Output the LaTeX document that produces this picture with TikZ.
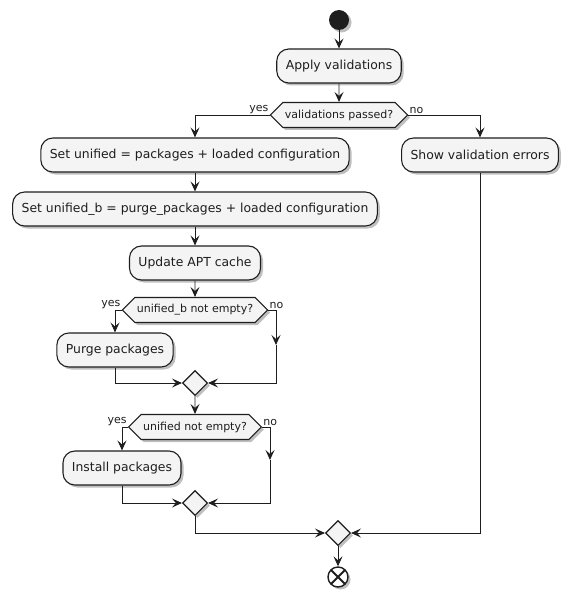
\documentclass[tikz,border=0pt]{standalone}
\usepackage{fontspec}
\setmainfont{DejaVu Sans}
\usetikzlibrary{arrows.meta,shapes.geometric,shapes.symbols,shadows,positioning}
\definecolor{ink}{HTML}{1E1E1E}
\definecolor{boxfill}{HTML}{F4F4F4}

\begin{document}
\begin{tikzpicture}[
  x=1pt,y=-1pt,
  font=\fontsize{12.4}{14}\selectfont,
  boxshadow/.style={drop shadow={shadow xshift=2.5pt,shadow yshift=-2.5pt,
                    opacity=0.25,fill=black}},
  action/.style={rounded corners=12pt,draw=ink,fill=boxfill,line width=1.1pt,
                 minimum height=34pt,inner xsep=9pt,text=ink,boxshadow},
  decision/.style={signal,signal to=west and east,signal pointer angle=90,
                   draw=ink,fill=boxfill,line width=1.1pt,minimum height=25pt,
                   inner xsep=2pt,inner ysep=0pt,text=ink,boxshadow,
                   font=\fontsize{11}{13}\selectfont},
  merge/.style={diamond,draw=ink,fill=boxfill,line width=1.1pt,
                minimum size=25pt,inner sep=0pt,boxshadow},
  startnode/.style={circle,fill=ink,minimum size=20pt,inner sep=0pt,boxshadow},
  endnode/.style={circle,draw=ink,fill=white,line width=1.4pt,minimum size=20pt,
                  inner sep=0pt,boxshadow,
                  path picture={\draw[ink,line width=2pt]
                    (path picture bounding box.north west) -- (path picture bounding box.south east)
                    (path picture bounding box.north east) -- (path picture bounding box.south west);}},
  branchlabel/.style={font=\fontsize{11}{13}\selectfont,text=ink,inner sep=1pt},
  flow/.style={draw=ink,line width=0.9pt,-{Stealth[length=10pt,width=9pt,inset=4pt]}}
]
\useasboundingbox (0,0) rectangle (571,596);

% main line
\node[startnode] (start) at (339,20) {};
\node[action] (apply) at (339,66) {Apply validations};
\node[decision] (valid) at (339,115) {validations passed?};
\node[branchlabel,anchor=south east] at (valid.west) {yes};
\node[branchlabel,anchor=south west] at (valid.east) {no};

\node[action] (unified) at (195,155) {Set unified = packages + loaded configuration};
\node[action] (showerr) at (480,155) {Show validation errors};
\node[action] (unifiedb) at (195,209) {Set unified\_b = purge\_packages + loaded configuration};
\node[action] (aptcache) at (195,263) {Update APT cache};

% purge branch
\node[decision] (purgeq) at (195,310) {unified\_b not empty?};
\node[branchlabel,anchor=south east] at (purgeq.west) {yes};
\node[branchlabel,anchor=south west] at (purgeq.east) {no};
\node[action] (purge) at (115,350) {Purge packages};
\node[merge] (mergea) at (195,383) {};
\coordinate (purgeno) at (276,345);

% install branch
\node[decision] (installq) at (195,427) {unified not empty?};
\node[branchlabel,anchor=south east] at (installq.west) {yes};
\node[branchlabel,anchor=south west] at (installq.east) {no};
\node[action] (install) at (122,468) {Install packages};
\node[merge] (mergeb) at (195,503) {};
\coordinate (installno) at (270,460);

% end
\node[merge] (mergec) at (338,533) {};
\node[endnode] (stop) at (338,577) {};

\draw[flow] (start) -- (apply);
\draw[flow] (apply) -- (valid);
\draw[flow] (valid.west) -| (unified.north);
\draw[flow] (valid.east) -| (showerr.north);
\draw[flow] (unified) -- (unifiedb);
\draw[flow] (unifiedb) -- (aptcache);
\draw[flow] (aptcache) -- (purgeq);
\draw[flow] (purgeq.west) -| (purge.north);
\draw[flow] (purgeq.east) -| (purgeno);
\draw[flow] (purgeno) |- (mergea.east);
\draw[flow] (purge.south) |- (mergea.west);
\draw[flow] (mergea) -- (installq);
\draw[flow] (installq.west) -| (install.north);
\draw[flow] (installq.east) -| (installno);
\draw[flow] (installno) |- (mergeb.east);
\draw[flow] (install.south) |- (mergeb.west);
\draw[flow] (mergeb.south) |- (mergec.west);
\draw[flow] (showerr.south) |- (mergec.east);
\draw[flow] (mergec) -- (stop);

\end{tikzpicture}
\end{document}
